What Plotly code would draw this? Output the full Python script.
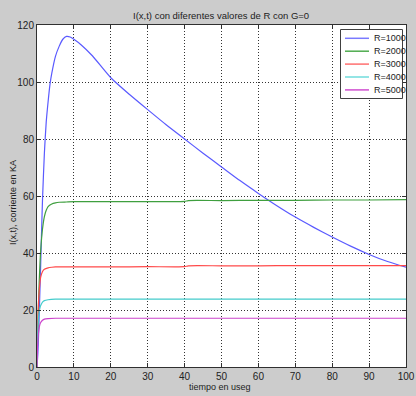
import plotly.graph_objects as go

# Data
t_r1000 = [0, 0.25, 0.5, 0.75, 1, 1.25, 1.5, 2, 2.5, 3, 3.5, 4, 5, 6, 7, 8, 9, 10, 12, 15, 20, 25, 30, 35, 40, 45, 50, 55, 60, 65, 70, 75, 80, 85, 90, 95, 100]
i_r1000 = [0, 5, 14, 25, 36, 48, 59, 75, 86, 93, 99, 103, 109, 112.5, 115, 116, 115.8, 115, 113, 109.2, 101.5, 95.7, 90.3, 85, 80, 75, 70.2, 65.4, 60.9, 56.6, 52.6, 49, 45.6, 42.4, 39.5, 37, 35]

t_r2000 = [0, 0.2, 0.4, 0.6, 0.8, 1, 1.5, 2, 2.5, 3, 4, 5, 6, 8, 10, 20, 30, 40, 41, 50, 60, 70, 80, 90, 100]
i_r2000 = [0, 12, 22, 30, 36, 41, 48.5, 52.8, 55, 56.3, 57.2, 57.6, 57.8, 57.9, 58.0, 58.0, 58.0, 58.1, 58.4, 58.4, 58.5, 58.5, 58.6, 58.6, 58.7]

t_r3000 = [0, 0.15, 0.3, 0.5, 0.75, 1, 1.5, 2, 3, 4, 5, 10, 20, 30, 40, 41, 50, 60, 70, 80, 90, 100]
i_r3000 = [0, 12, 19, 25, 29, 31.5, 33.5, 34.3, 34.8, 35, 35.1, 35.1, 35.1, 35.2, 35.2, 35.5, 35.5, 35.5, 35.6, 35.6, 35.6, 35.6]

t_r4000 = [0, 0.15, 0.3, 0.5, 0.75, 1, 1.5, 2, 3, 5, 10, 50, 100]
i_r4000 = [0, 10, 15, 18.5, 20.5, 21.6, 22.8, 23.3, 23.6, 23.8, 23.8, 23.8, 23.8]

t_r5000 = [0, 0.15, 0.3, 0.5, 0.75, 1, 1.5, 2, 3, 5, 10, 50, 100]
i_r5000 = [0, 7, 10.5, 13, 14.8, 15.6, 16.4, 16.8, 17.0, 17.1, 17.1, 17.1, 17.1]

series_names = ["R=1000", "R=2000", "R=3000", "R=4000", "R=5000"]
series_t = [t_r1000, t_r2000, t_r3000, t_r4000, t_r5000]
series_i = [i_r1000, i_r2000, i_r3000, i_r4000, i_r5000]
colors = ["#5a5aff", "#3f9f3f", "#ff4a4a", "#44cccc", "#cc44cc"]
legend_colors = ["#7a7aff", "#4fab4f", "#ff7070", "#70dcdc", "#d050d0"]

x_ticks = [0, 10, 20, 30, 40, 50, 60, 70, 80, 90, 100]
y_ticks = [0, 20, 40, 60, 80, 100, 120]

W, H = 416, 396
ML, MR, MT, MB = 37, 10, 25, 29
PW, PH = W - ML - MR, H - MT - MB

def px(x):
    return (x - ML) / PW

def py(y):
    return (H - MB - y) / PH

font_family = "Liberation Sans, Arial, sans-serif"
txt = "#222222"

fig = go.Figure()
for name, t, i, c in zip(series_names, series_t, series_i, colors):
    fig.add_trace(go.Scatter(x=t, y=i, mode="lines", name=name,
                             line=dict(color=c, width=1.2, shape="spline", smoothing=0.6),
                             showlegend=False))

axis_common = dict(
    showline=True, linecolor="#303030", linewidth=1, mirror="ticks",
    ticks="inside", ticklen=4, tickcolor="#303030",
    showgrid=True, gridcolor="#333333", gridwidth=1, griddash="1px,2px",
    zeroline=False, automargin=False,
    tickfont=dict(size=10, color=txt, family=font_family),
)

# Custom legend (compact, like MATLAB)
shapes = [dict(type="rect", xref="paper", yref="paper",
               x0=px(340.5), x1=px(402.5), y0=py(98.5), y1=py(29.5),
               line=dict(color="#404040", width=1), fillcolor="#ffffff", layer="above")]
annotations = []
row_y = [38.3, 51.2, 64.1, 77.0, 89.9]
for name, c, yy in zip(series_names, legend_colors, row_y):
    shapes.append(dict(type="line", xref="paper", yref="paper",
                       x0=px(345), x1=px(369), y0=py(yy), y1=py(yy),
                       line=dict(color=c, width=1.5), layer="above"))
    annotations.append(dict(text=name, xref="paper", yref="paper",
                            x=px(371.5), y=py(yy), xanchor="left", yanchor="middle",
                            showarrow=False,
                            font=dict(size=9, color=txt, family=font_family)))

annotations.append(dict(text="tiempo en useg", xref="paper", yref="paper",
                        x=px(220), y=py(387), xanchor="center", yanchor="middle",
                        showarrow=False, font=dict(size=9, color=txt, family=font_family)))
annotations.append(dict(text="I(x,t), corriente en KA", xref="paper", yref="paper",
                        x=px(13), y=py(202), xanchor="center", yanchor="middle",
                        textangle=-90, showarrow=False,
                        font=dict(size=9, color=txt, family=font_family)))
annotations.append(dict(text="I(x,t) con diferentes valores de R con G=0", xref="paper", yref="paper",
                        x=px(221), y=py(15.5), xanchor="center", yanchor="middle",
                        showarrow=False, font=dict(size=9.5, color=txt, family=font_family)))

fig.update_layout(
    width=W, height=H,
    paper_bgcolor="#cccccc", plot_bgcolor="#ffffff",
    margin=dict(l=ML, r=MR, t=MT, b=MB),
    xaxis=dict(range=[0, 100], tickvals=x_ticks, **axis_common),
    yaxis=dict(range=[0, 120], tickvals=y_ticks, **axis_common),
    shapes=shapes, annotations=annotations,
    showlegend=False,
)

fig.write_html("out.html", config={"displayModeBar": False},
               post_script="document.body.style.margin='0';document.body.style.background='#cccccc';document.body.style.overflow='hidden';")
